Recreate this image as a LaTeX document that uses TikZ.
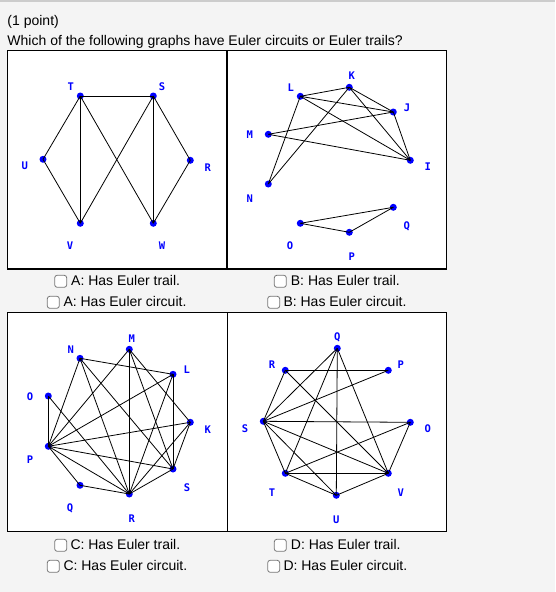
\documentclass[tikz,border=0pt]{standalone}
\usepackage{fontspec}
\setmainfont{Liberation Sans}
\newfontfamily\lblfont{DejaVu Sans Mono}
\definecolor{bgc}{HTML}{F4F4F4}
\definecolor{nodeblue}{HTML}{0000FF}
\definecolor{cbgray}{HTML}{767676}
\tikzset{
  dot/.style={circle,fill=nodeblue,inner sep=0pt,minimum size=7pt},
  lbl/.style={text=nodeblue,font=\lblfont\bfseries\fontsize{10.5}{10.5}\selectfont,inner sep=0pt},
  edge/.style={draw=black,line width=0.8pt},
  panel/.style={draw=black,fill=white,line width=1.2pt},
  txt/.style={anchor=base west,inner sep=0pt,font=\fontsize{14}{16}\selectfont,text=black},
  cbox/.style={draw=cbgray,fill=white,rounded corners=2.5pt,minimum size=12pt,inner sep=0pt,line width=0.8pt}
}
\begin{document}
\begin{tikzpicture}[x=1pt,y=-1pt]
\useasboundingbox (0,0) rectangle (555,592);
\fill[bgc] (0,0) rectangle (555,592);
\draw[gray!40,line width=2pt] (0,1) -- (555,1);
% title text
\node[txt] (t1) at (7.3,25.5) {(1 point)};
\node[txt] (t2) at (7.3,45) {Which of the following graphs have Euler circuits or Euler trails?};
% panels
\draw[panel] (7.3,50.3) rectangle (226.7,269);
\draw[panel] (227.3,50.3) rectangle (446.3,269);
\draw[panel] (7.3,312.3) rectangle (227.3,531.7);
\draw[panel] (227.6,312.3) rectangle (446.3,531.7);
% ---------- Panel A
\node[dot] (aT) at (80.3,96) {};
\node[dot] (aS) at (153.3,96) {};
\node[dot] (aU) at (43,159.3) {};
\node[dot] (aR) at (190.3,160.3) {};
\node[dot] (aV) at (80.3,223.3) {};
\node[dot] (aW) at (153.3,223.3) {};
\node[lbl] (laT) at (70.7,87) {T};
\node[lbl] (laS) at (162,87) {S};
\node[lbl] (laU) at (24.7,165.7) {U};
\node[lbl] (laR) at (207.7,167.3) {R};
\node[lbl] (laV) at (70,246) {V};
\node[lbl] (laW) at (162,246) {W};
\foreach \a/\b in {aT/aS,aT/aU,aT/aV,aT/aW,aS/aV,aS/aW,aS/aR,aU/aV,aR/aW}
  \draw[edge] (\a.center) -- (\b.center);
% ---------- Panel B
\node[dot] (bK) at (349.3,87.3) {};
\node[dot] (bL) at (300.3,96.3) {};
\node[dot] (bJ) at (393.3,112) {};
\node[dot] (bM) at (268.3,134.3) {};
\node[dot] (bI) at (410.3,160.3) {};
\node[dot] (bN) at (268.3,184) {};
\node[dot] (bQ) at (393.3,207.3) {};
\node[dot] (bO) at (300.3,223.3) {};
\node[dot] (bP) at (349.3,232.3) {};
\node[lbl] (lbK) at (351.7,76) {K};
\node[lbl] (lbL) at (290.7,87.3) {L};
\node[lbl] (lbJ) at (407,107.7) {J};
\node[lbl] (lbM) at (249.7,135) {M};
\node[lbl] (lbI) at (427.7,167) {I};
\node[lbl] (lbN) at (249.7,198.3) {N};
\node[lbl] (lbQ) at (406.7,226) {Q};
\node[lbl] (lbO) at (290,246) {O};
\node[lbl] (lbP) at (351.7,256.7) {P};
\foreach \a/\b in {bL/bK,bL/bJ,bL/bI,bL/bN,bK/bJ,bK/bI,bK/bN,bM/bJ,bM/bI,bJ/bI,bO/bP,bO/bQ,bP/bQ}
  \draw[edge] (\a.center) -- (\b.center);
% ---------- Panel C
\node[dot] (cM) at (129.3,349.3) {};
\node[dot] (cN) at (80,358.3) {};
\node[dot] (cL) at (173,374.3) {};
\node[dot] (cO) at (48.3,396) {};
\node[dot] (cK) at (190.3,422.3) {};
\node[dot] (cP) at (48.3,446.3) {};
\node[dot] (cS) at (173,469) {};
\node[dot] (cQ) at (80,485.3) {};
\node[dot] (cR) at (129.3,494) {};
\node[lbl] (lcM) at (131.7,338.3) {M};
\node[lbl] (lcN) at (70.7,349.3) {N};
\node[lbl] (lcL) at (186.7,370) {L};
\node[lbl] (lcO) at (30,397) {O};
\node[lbl] (lcK) at (207.7,429.3) {K};
\node[lbl] (lcP) at (30,460) {P};
\node[lbl] (lcS) at (187,487.7) {S};
\node[lbl] (lcQ) at (70,508.3) {Q};
\node[lbl] (lcR) at (131.7,519) {R};
\foreach \a/\b in {cN/cL,cN/cP,cN/cR,cN/cS,cM/cP,cM/cR,cM/cK,cM/cS,cL/cP,cL/cS,cL/cR,cO/cP,cO/cR,cK/cP,cK/cR,cK/cS,cP/cS,cP/cR,cP/cQ,cQ/cR,cR/cS}
  \draw[edge] (\a.center) -- (\b.center);
% ---------- Panel D
\node[dot] (dQ) at (337.3,348.3) {};
\node[dot] (dR) at (285.3,370.3) {};
\node[dot] (dP) at (388.3,370.3) {};
\node[dot] (dS) at (263.3,421.3) {};
\node[dot] (dO) at (410.3,422.3) {};
\node[dot] (dT) at (285.3,473.3) {};
\node[dot] (dV) at (388.3,473.3) {};
\node[dot] (dU) at (336.3,495.3) {};
\node[lbl] (ldQ) at (337.3,337) {Q};
\node[lbl] (ldR) at (272,364.3) {R};
\node[lbl] (ldP) at (400.7,364.3) {P};
\node[lbl] (ldS) at (245,428.3) {S};
\node[lbl] (ldO) at (427.7,429) {O};
\node[lbl] (ldT) at (272,492.7) {T};
\node[lbl] (ldV) at (400.7,492.7) {V};
\node[lbl] (ldU) at (336.3,520) {U};
\foreach \a/\b in {dR/dP,dR/dS,dR/dV,dQ/dS,dQ/dT,dQ/dU,dQ/dV,dP/dS,dS/dO,dS/dT,dS/dU,dS/dV,dO/dT,dO/dV,dT/dV,dT/dU,dU/dV}
  \draw[edge] (\a.center) -- (\b.center);
% ---------- checkboxes and answers
\node[cbox] (cbA1) at (60.7,281.3) {};
\node[txt] (tA1) at (71,285) {A: Has Euler trail.};
\node[cbox] (cbA2) at (53.3,302.3) {};
\node[txt] (tA2) at (63.3,306) {A: Has Euler circuit.};
\node[cbox] (cbB1) at (280.3,281.3) {};
\node[txt] (tB1) at (290.7,285) {B: Has Euler trail.};
\node[cbox] (cbB2) at (273.7,302.3) {};
\node[txt] (tB2) at (283.3,306) {B: Has Euler circuit.};
\node[cbox] (cbC1) at (60.7,545.3) {};
\node[txt] (tC1) at (70.3,549) {C: Has Euler trail.};
\node[cbox] (cbC2) at (53.3,566.3) {};
\node[txt] (tC2) at (63.3,570) {C: Has Euler circuit.};
\node[cbox] (cbD1) at (280.3,545.3) {};
\node[txt] (tD1) at (290.7,549) {D: Has Euler trail.};
\node[cbox] (cbD2) at (273.7,566.3) {};
\node[txt] (tD2) at (283.3,570) {D: Has Euler circuit.};
\end{tikzpicture}
\end{document}
